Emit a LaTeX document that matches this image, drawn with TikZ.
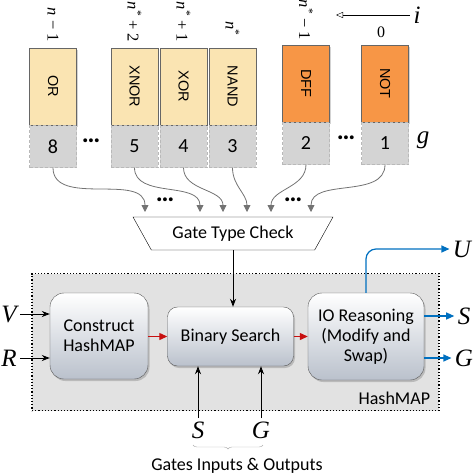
\documentclass[tikz,border=0pt]{standalone}
\usepackage{fontspec}
\setmainfont{Carlito}
\newfontfamily\arialfont{Liberation Sans}
\newfontfamily\timesfont{Liberation Serif}
\usetikzlibrary{shapes.geometric, arrows.meta, shadows, decorations.pathreplacing}
\definecolor{gateyellow}{RGB}{250,228,178}
\definecolor{gateorange}{RGB}{247,150,70}
\definecolor{numgray}{RGB}{212,212,212}
\definecolor{hashgray}{RGB}{226,226,226}
\definecolor{procgray}{RGB}{186,193,204}
\definecolor{ioblue}{RGB}{0,112,192}
\definecolor{pathred}{RGB}{200,16,16}
\newcommand{\mainsize}{\fontsize{18}{20}\selectfont}
\newcommand{\var}[1]{{\timesfont\itshape\fontsize{25}{25}\selectfont #1}}
\newcommand{\nstar}{\textit{n}\textsuperscript{*}}

\tikzset{
    gatebox/.style={draw=gray!80!black, thick, minimum width=47pt, minimum height=77pt,
        inner sep=0pt, font=\arialfont\fontsize{14.5}{15}\selectfont,
        drop shadow={opacity=0.35, shadow xshift=1pt, shadow yshift=-1.5pt}},
    numbox/.style={draw=gray!55, densely dashed, fill=numgray, minimum width=47pt,
        minimum height=42pt, inner sep=0pt, font=\fontsize{20}{20}\selectfont},
    idxlabel/.style={rotate=-90, inner sep=0pt, font=\timesfont\fontsize{16.5}{16.5}\selectfont},
    dotsnode/.style={inner sep=0pt, font=\bfseries\fontsize{26}{26}\selectfont},
    procbox/.style={draw=gray!70!black, rounded corners=14pt, top color=white,
        bottom color=procgray, align=center, font=\mainsize, inner sep=0pt,
        drop shadow={opacity=0.4, shadow xshift=1.5pt, shadow yshift=-2pt}},
    garrow/.style={gray!90!black, thick, -{Triangle[length=7pt,width=7pt]}},
    barrow/.style={thick, -{Stealth[length=8pt,width=6pt]}},
    rarrow/.style={pathred, very thick, -{Triangle[length=8pt,width=7pt]}},
    bluearrow/.style={ioblue, very thick, -{Triangle[length=8pt,width=7pt]}}
}

\begin{document}
\begin{tikzpicture}[x=1pt, y=-1pt]
    \useasboundingbox (0,0) rectangle (474,475);

    % gate boxes
    \node[gatebox, fill=gateyellow] (gor) at (53,86.5) {\rotatebox{-90}{OR}};
    \node[gatebox, fill=gateyellow] (gxnor) at (134.5,86.5) {\rotatebox{-90}{XNOR}};
    \node[gatebox, fill=gateyellow] (gxor) at (183.5,86.5) {\rotatebox{-90}{XOR}};
    \node[gatebox, fill=gateyellow] (gnand) at (232.5,86.5) {\rotatebox{-90}{NAND}};
    \node[gatebox, fill=gateorange] (gdff) at (306,83.5) {\rotatebox{-90}{DFF}};
    \node[gatebox, fill=gateorange] (gnot) at (385,83.5) {\rotatebox{-90}{NOT}};

    % index labels
    \node[idxlabel] (ior) at (53,25) {\textit{n} − 1};
    \node[idxlabel] (ixnor) at (134.5,22) {\nstar\ + 2};
    \node[idxlabel] (ixor) at (183.5,22) {\nstar\ + 1};
    \node[idxlabel] (inand) at (232.5,29) {\nstar};
    \node[idxlabel] (idff) at (306,20) {\nstar\ − 1};
    \node[font=\timesfont\fontsize{16}{16}\selectfont] (inot) at (381,32) {0};
    \node (ilab) at (417,15) {\var{i}};
    \coordinate (itip) at (336,14);
    \draw[thin, -{Triangle[open,length=7pt,width=6pt]}] (ilab.west) -- (ilab.west -| itip);

    % gate numbers
    \node[numbox] (n8) at (53,146.5) {8};
    \node[numbox] (n5) at (134.5,146.5) {5};
    \node[numbox] (n4) at (183.5,146.5) {4};
    \node[numbox] (n3) at (232.5,146.5) {3};
    \node[numbox] (n2) at (306,143.5) {2};
    \node[numbox] (n1) at (385,143.5) {1};
    \node (glab) at (423,140) {\var{g}};
    \node[dotsnode] (dotsa) at (91,141) {…};
    \node[dotsnode] (dotsb) at (346,138) {…};

    % gate type check
    \node[draw, trapezium, shape border rotate=180, trapezium angle=57,
        trapezium stretches=true, minimum width=200pt, minimum height=33pt,
        font=\mainsize] (gtc) at (233,233.5) {Gate Type Check};
    \foreach \n/\x in {8/145, 5/200, 4/223, 3/247, 2/271, 1/311}
        \coordinate (t\n) at (\x,212);
    \foreach \n in {8,5,4,3,2,1}
        \draw[garrow] (n\n.south) to[out=-90, in=90] (t\n);
    \node[dotsnode] (dotsc) at (165,200) {…};
    \node[dotsnode] (dotsd) at (293,200) {…};

    % hashmap block
    \node[draw, dotted, very thick, fill=hashgray, minimum width=407pt,
        minimum height=137pt] (hm) at (235.5,342) {};
    \node[anchor=south east, font=\mainsize] (hmlab) at ([xshift=-6pt, yshift=3pt]hm.south east) {HashMAP};
    \node[procbox, minimum width=98pt, minimum height=86pt] (cons) at (99,336) {Construct\\HashMAP};
    \node[procbox, minimum width=126pt, minimum height=59pt, rounded corners=10pt] (bs) at (230.5,336.5) {Binary Search};
    \node[procbox, minimum width=116pt, minimum height=87pt] (io) at (366,336.5) {IO Reasoning\\(Modify and\\Swap)};

    \draw[barrow] (gtc.south) -- (gtc.south |- bs.north);
    \draw[rarrow] (cons.east |- bs) -- (bs.west);
    \draw[rarrow] (bs.east) -- (bs -| io.west);

    % inputs
    \node (vin) at (9,314) {\var{V}};
    \node (rin) at (9,358) {\var{R}};
    \draw[barrow] (vin.east) -- (vin -| cons.west);
    \draw[barrow] (rin.east) -- (rin -| cons.west);

    % outputs
    \node (sout) at (464,316) {\var{S}};
    \node (gout) at (464,358) {\var{G}};
    \node (uout) at (462,249) {\var{U}};
    \draw[bluearrow] (sout -| io.east) -- (sout.west);
    \draw[bluearrow] (gout -| io.east) -- (gout.west);
    \draw[bluearrow, rounded corners=10pt] (io.north) |- (uout.west);

    % gate inputs and outputs
    \node (sin) at (198,430) {\var{S}};
    \node (gin) at (261,430) {\var{G}};
    \draw[barrow] (sin.north) -- (sin.north |- bs.south);
    \draw[barrow] (gin.north) -- (gin.north |- bs.south);
    \draw[gray!65, decorate, decoration={brace, amplitude=4pt}] (263,445) -- (193,445);
    \node[font=\mainsize] (giolab) at (237,466) {Gates Inputs \& Outputs};
\end{tikzpicture}
\end{document}
